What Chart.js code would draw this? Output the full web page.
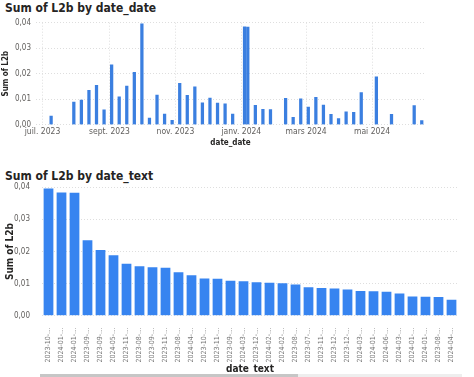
<!DOCTYPE html>
<html>
<head>
<meta charset="utf-8">
<script src="https://cdn.jsdelivr.net/npm/chart.js@4.4.1/dist/chart.umd.min.js"></script>
<style>
  html, body { margin: 0; padding: 0; background: #fff; }
  body { width: 474px; height: 377px; position: relative; overflow: hidden;
         font-family: "Liberation Sans Narrow", "DejaVu Sans Condensed", Roboto, sans-serif; }
  .title { position: absolute; left: 5px; font-size: 12px; line-height: 14px; font-weight: bold; color: #252423; white-space: nowrap; }
  #c1 { position: absolute; left: 0; top: 0; }
  #c2 { position: absolute; left: 0; top: 160px; }
  #track { position: absolute; left: 40px; top: 374px; width: 422px; height: 3px; background: #eeeeee; }
  #thumb { position: absolute; left: 40px; top: 374px; width: 258px; height: 3px; background: #c6c6c6; }
</style>
</head>
<body>
<div class="title" style="top:1px">Sum of L2b by date_date</div>
<canvas id="c1" width="474" height="150"></canvas>
<div class="title" style="top:169px">Sum of L2b by date_text</div>
<canvas id="c2" width="474" height="217"></canvas>
<div id="track"></div>
<div id="thumb"></div>

<script>
// weekly readings (date_date) and their Sum of L2b
const dates = [
  '2023-07-09', '2023-07-30', '2023-08-06', '2023-08-13', '2023-08-20', '2023-08-27',
  '2023-09-03', '2023-09-10', '2023-09-17', '2023-09-24', '2023-10-01', '2023-10-08',
  '2023-10-15', '2023-10-22', '2023-10-29', '2023-11-05', '2023-11-12', '2023-11-19',
  '2023-11-26', '2023-12-03', '2023-12-10', '2023-12-17', '2023-12-24', '2024-01-04',
  '2024-01-07', '2024-01-14', '2024-01-21', '2024-01-28', '2024-02-11', '2024-02-18',
  '2024-02-25', '2024-03-03', '2024-03-10', '2024-03-17', '2024-03-24', '2024-03-31',
  '2024-04-07', '2024-04-14', '2024-04-21', '2024-05-05', '2024-05-19', '2024-06-09',
  '2024-06-16'
];
const values = [
  0.0034, 0.0089, 0.0097, 0.0135, 0.0154, 0.0058,
  0.0235, 0.0109, 0.0151, 0.0205, 0.0396, 0.0026,
  0.0116, 0.0042, 0.0017, 0.0162, 0.0115, 0.0149,
  0.0086, 0.0104, 0.0085, 0.0082, 0.0042, 0.0384,
  0.0383, 0.0076, 0.0060, 0.0059, 0.0103, 0.0029,
  0.0101, 0.0069, 0.0107, 0.0077, 0.0041, 0.0024,
  0.0050, 0.0049, 0.0126, 0.0188, 0.0041, 0.0075,
  0.0016
];
const monthTicks = ['2023-07-01', '2023-09-01', '2023-11-01', '2024-01-01', '2024-03-01', '2024-05-01'];
const monthLabels = ['juil. 2023', 'sept. 2023', 'nov. 2023', 'janv. 2024', 'mars 2024', 'mai 2024'];
const yTicks = [0, 0.01, 0.02, 0.03, 0.04];

const DAY = 86400000;
const toDay = s => Date.UTC(+s.slice(0, 4), +s.slice(5, 7) - 1, +s.slice(8, 10)) / DAY;
const fmt = v => v.toFixed(2).replace('.', ',');

Chart.defaults.font.family = '"Liberation Sans Narrow", "DejaVu Sans Condensed", Roboto, sans-serif';
Chart.defaults.color = '#605e5c';

const gridColor = '#dedede';

// top chart: by date_date
new Chart(document.getElementById('c1'), {
  type: 'bar',
  data: {
    datasets: [{
      data: dates.map((d, i) => ({ x: toDay(d), y: values[i] })),
      backgroundColor: '#3b7fe0',
      barThickness: 2.6
    }]
  },
  options: {
    responsive: false,
    animation: false,
    layout: { padding: { top: 22.7, right: 49, bottom: 0, left: 0 } },
    plugins: { legend: { display: false }, tooltip: { enabled: false } },
    scales: {
      x: {
        type: 'linear',
        offset: false,
        min: toDay('2023-06-25'),
        max: toDay('2024-06-19'),
        afterBuildTicks: s => { s.ticks = monthTicks.map(d => ({ value: toDay(d) })); },
        afterFit: s => { s.height = 25.3; },
        ticks: { autoSkip: false, maxRotation: 0, padding: 2, font: { size: 8.5 },
                 callback: (v, i) => monthLabels[i] },
        grid: { color: gridColor, drawTicks: false, offset: false },
        border: { display: false, dash: [1, 2] },
        title: { display: true, text: 'date_date', color: '#252423',
                 font: { size: 8, weight: 'bold' }, padding: { top: 0, bottom: 2.5 } }
      },
      y: {
        min: 0, max: 0.04,
        afterBuildTicks: s => { s.ticks = yTicks.map(v => ({ value: v })); },
        afterFit: s => { s.width = 36; },
        ticks: { padding: 5, font: { size: 8 }, callback: v => fmt(v) },
        grid: { color: gridColor, drawTicks: false },
        border: { display: false, dash: [1, 2] },
        title: { display: true, text: 'Sum of L2b', color: '#252423',
                 font: { size: 8, weight: 'bold' }, padding: { top: 1, bottom: 0 } }
      }
    }
  }
});

// bottom chart: by date_text, sorted by value, first 32 visible (scrolled)
const order = values.map((v, i) => i).sort((a, b) => values[b] - values[a]);
const textLabels = order.map(i => dates[i]);
const sortedValues = order.map(i => values[i]);

new Chart(document.getElementById('c2'), {
  type: 'bar',
  data: {
    labels: textLabels,
    datasets: [{
      data: sortedValues,
      backgroundColor: '#3784f0',
      categoryPercentage: 1,
      barPercentage: 0.75
    }]
  },
  options: {
    responsive: false,
    animation: false,
    layout: { padding: { top: 27.3, right: 16, bottom: 0, left: 0 } },
    plugins: { legend: { display: false }, tooltip: { enabled: false } },
    scales: {
      x: {
        max: 31,
        afterFit: s => { s.height = 61.3; },
        ticks: { autoSkip: false, minRotation: 90, maxRotation: 90, padding: 4, font: { size: 7 },
                 color: '#777', callback: function (v) { return this.getLabelForValue(v).slice(0, 8) + '…'; } },
        grid: { display: false },
        border: { display: false },
        title: { display: true, text: 'date_text', color: '#252423',
                 font: { size: 10, weight: 'bold' }, padding: { top: 0, bottom: 2 } }
      },
      y: {
        min: 0, max: 0.04,
        afterBuildTicks: s => { s.ticks = yTicks.map(v => ({ value: v })); },
        afterFit: s => { s.width = 42; },
        ticks: { padding: 12, font: { size: 8 }, callback: v => fmt(v) },
        grid: { color: gridColor, drawTicks: false },
        border: { display: false, dash: [1, 2] },
        title: { display: true, text: 'Sum of L2b', color: '#252423',
                 font: { size: 10, weight: 'bold' }, padding: { top: 4, bottom: 0 } }
      }
    }
  }
});
</script>
</body>
</html>
